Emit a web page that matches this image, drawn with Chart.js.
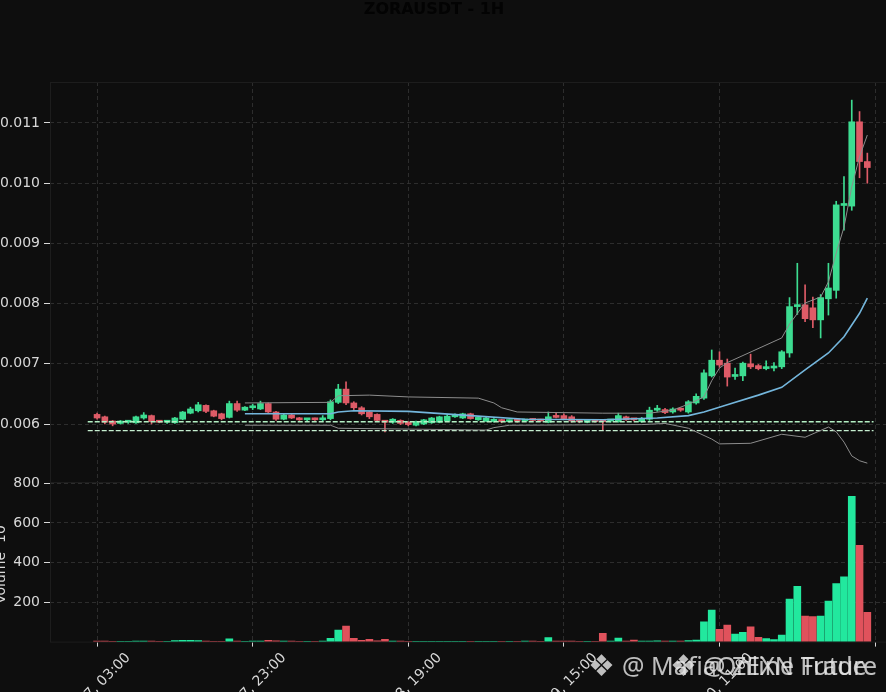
<!DOCTYPE html>
<html>
<head>
<meta charset="utf-8">
<script src="https://cdn.jsdelivr.net/npm/chart.js@4.4.1/dist/chart.umd.min.js"></script>
<style>
  html, body { margin: 0; padding: 0; background: #0e0e0e; overflow: hidden; }
  #wrap { position: relative; width: 886px; height: 692px; }
  #wrap canvas { position: absolute; left: 0; top: 0; }
</style>
</head>
<body>
<div id="wrap">
  <canvas id="price" width="886" height="692"></canvas>
  <canvas id="volume" width="886" height="692"></canvas>
</div>
<script>
/* === DATA (ZORAUSDT 1H) === */
const xTickIdx = [0, 20, 40, 60, 80, 100];
const xTickLabels = ['Jul 07, 03:00', 'Jul 07, 23:00', 'Jul 08, 19:00', 'Jul 09, 15:00', 'Jul 10, 11:00', ''];
const priceTicks = [0.006, 0.007, 0.008, 0.009, 0.010, 0.011];
const volumeTicks = [200, 400, 600, 800];

const opens = [
  0.00616, 0.00612, 0.00605, 0.00601, 0.00603, 0.00602, 0.00610, 0.00614, 0.00604, 0.00603,
  0.00602, 0.00608, 0.00618, 0.00622, 0.00631, 0.00622, 0.00617, 0.00611, 0.00634, 0.00623,
  0.00627, 0.00625, 0.00634, 0.00620, 0.00608, 0.00615, 0.00610, 0.00607, 0.00608, 0.00607,
  0.00609, 0.00636, 0.00658, 0.00635, 0.00627, 0.00620, 0.00616, 0.00604, 0.00603, 0.00606,
  0.00603, 0.00598, 0.00600, 0.00602, 0.00603, 0.00605, 0.00612, 0.00610, 0.00617, 0.00607,
  0.00605, 0.00604, 0.00607, 0.00604, 0.00606, 0.00605, 0.00607, 0.00606, 0.00603, 0.00613,
  0.00614, 0.00612, 0.00605, 0.00603, 0.00606, 0.00606, 0.00605, 0.00604, 0.00612, 0.00608,
  0.00604, 0.00608, 0.00623, 0.00624, 0.00620, 0.00625, 0.00620, 0.00635, 0.00643, 0.00680,
  0.00706, 0.00701, 0.00679, 0.00680, 0.00700, 0.00697, 0.00692, 0.00693, 0.00695, 0.00718,
  0.00795, 0.00798, 0.00793, 0.00773, 0.00808, 0.00822, 0.00963, 0.00962, 0.01102, 0.01036
];
const highs = [
  0.00618, 0.00613, 0.00606, 0.00606, 0.00605, 0.00613, 0.00619, 0.00615, 0.00606, 0.00605,
  0.00611, 0.00621, 0.00628, 0.00636, 0.00632, 0.00623, 0.00618, 0.00638, 0.00638, 0.00629,
  0.00633, 0.00638, 0.00635, 0.00621, 0.00616, 0.00616, 0.00611, 0.00609, 0.00610, 0.00614,
  0.00640, 0.00666, 0.00670, 0.00637, 0.00629, 0.00621, 0.00617, 0.00606, 0.00609, 0.00607,
  0.00604, 0.00605, 0.00608, 0.00611, 0.00613, 0.00616, 0.00617, 0.00618, 0.00618, 0.00612,
  0.00611, 0.00609, 0.00608, 0.00607, 0.00608, 0.00608, 0.00609, 0.00608, 0.00620, 0.00619,
  0.00617, 0.00614, 0.00607, 0.00607, 0.00607, 0.00607, 0.00607, 0.00618, 0.00613, 0.00609,
  0.00611, 0.00628, 0.00631, 0.00626, 0.00627, 0.00627, 0.00639, 0.00650, 0.00690, 0.00723,
  0.00720, 0.00708, 0.00693, 0.00703, 0.00716, 0.00699, 0.00705, 0.00702, 0.00722, 0.00810,
  0.00867, 0.00831, 0.00811, 0.00815, 0.00867, 0.00970, 0.01011, 0.01138, 0.01119, 0.01050
];
const lows = [
  0.00608, 0.00600, 0.00597, 0.00600, 0.00601, 0.00601, 0.00608, 0.00600, 0.00602, 0.00601,
  0.00601, 0.00607, 0.00617, 0.00620, 0.00619, 0.00612, 0.00607, 0.00610, 0.00621, 0.00622,
  0.00624, 0.00624, 0.00619, 0.00606, 0.00607, 0.00609, 0.00606, 0.00605, 0.00606, 0.00605,
  0.00607, 0.00634, 0.00632, 0.00624, 0.00615, 0.00609, 0.00604, 0.00587, 0.00601, 0.00599,
  0.00597, 0.00597, 0.00599, 0.00601, 0.00602, 0.00604, 0.00611, 0.00609, 0.00608, 0.00606,
  0.00604, 0.00603, 0.00602, 0.00603, 0.00603, 0.00604, 0.00605, 0.00604, 0.00602, 0.00610,
  0.00608, 0.00603, 0.00602, 0.00602, 0.00603, 0.00590, 0.00603, 0.00603, 0.00606, 0.00605,
  0.00603, 0.00606, 0.00621, 0.00617, 0.00618, 0.00621, 0.00618, 0.00633, 0.00641, 0.00678,
  0.00694, 0.00663, 0.00674, 0.00672, 0.00692, 0.00690, 0.00690, 0.00688, 0.00692, 0.00711,
  0.00782, 0.00770, 0.00760, 0.00743, 0.00781, 0.00809, 0.00922, 0.00955, 0.01009, 0.01000
];
const closes = [
  0.00610, 0.00603, 0.00600, 0.00605, 0.00604, 0.00612, 0.00615, 0.00604, 0.00603, 0.00603,
  0.00610, 0.00620, 0.00625, 0.00632, 0.00621, 0.00613, 0.00609, 0.00634, 0.00623, 0.00628,
  0.00627, 0.00634, 0.00620, 0.00608, 0.00615, 0.00610, 0.00607, 0.00608, 0.00607, 0.00608,
  0.00637, 0.00658, 0.00635, 0.00627, 0.00617, 0.00612, 0.00606, 0.00603, 0.00608, 0.00601,
  0.00599, 0.00604, 0.00607, 0.00610, 0.00612, 0.00613, 0.00613, 0.00617, 0.00609, 0.00611,
  0.00610, 0.00608, 0.00604, 0.00606, 0.00605, 0.00607, 0.00606, 0.00605, 0.00612, 0.00611,
  0.00609, 0.00605, 0.00604, 0.00606, 0.00604, 0.00604, 0.00606, 0.00614, 0.00607, 0.00607,
  0.00609, 0.00623, 0.00625, 0.00619, 0.00625, 0.00623, 0.00637, 0.00646, 0.00685, 0.00706,
  0.00698, 0.00678, 0.00682, 0.00701, 0.00695, 0.00692, 0.00694, 0.00695, 0.00720, 0.00795,
  0.00798, 0.00775, 0.00773, 0.00810, 0.00826, 0.00964, 0.00965, 0.01102, 0.01036, 0.01026
];
const volumes = [
  2, 2, 1, 1, 1, 2, 2, 2, 1, 1,
  5, 6, 6, 5, 2, 1, 1, 14, 3, 1,
  2, 3, 7, 4, 2, 2, 1, 1, 1, 2,
  17, 58, 79, 17, 6, 12, 4, 12, 3, 2,
  1, 1, 1, 1, 1, 1, 1, 1, 1, 1,
  1, 1, 1, 1, 1, 2, 2, 1, 20, 3,
  2, 2, 1, 1, 1, 42, 2, 18, 3, 8,
  2, 3, 4, 2, 2, 3, 5, 8, 100, 159,
  62, 84, 38, 47, 75, 22, 15, 10, 33, 215,
  280, 129, 126, 129, 205, 294, 327, 734, 487, 148
];

// Bollinger bands (candle index, price)
const bbUpperIdx = [19, 30, 31, 35, 40, 49, 51, 52, 54, 65, 71, 74, 76, 78, 79, 80, 81, 88, 89, 91, 93, 94, 95, 96, 97, 98, 99];
const bbUpperVal = [0.00635, 0.00636, 0.00647, 0.00648, 0.00645, 0.00643, 0.00635, 0.00627, 0.00620, 0.00618, 0.00618, 0.00623, 0.00633, 0.00645, 0.00672, 0.00693, 0.00702, 0.00743, 0.00766, 0.00801, 0.00811, 0.00836, 0.00884, 0.00927, 0.00994, 0.01044, 0.01080];
const bbMidIdx = [19, 30, 31, 33, 40, 48, 55, 65, 72, 76, 78, 81, 85, 88, 91, 94, 96, 98, 99];
const bbMidVal = [0.00617, 0.00617, 0.00620, 0.00622, 0.00621, 0.00614, 0.00608, 0.00607, 0.00610, 0.00614, 0.00620, 0.00632, 0.00648, 0.00661, 0.00690, 0.00718, 0.00745, 0.00784, 0.00809];
const bbLowerIdx = [19, 30, 31, 50, 51, 53, 70, 73, 76, 79, 80, 84, 88, 91, 94, 95, 96, 97, 98, 99];
const bbLowerVal = [0.00598, 0.00598, 0.00593, 0.00590, 0.00594, 0.00598, 0.00599, 0.00601, 0.00593, 0.00575, 0.00567, 0.00568, 0.00583, 0.00578, 0.00595, 0.00587, 0.00570, 0.00547, 0.00539, 0.00535];

const hLevels = [0.006038, 0.00589];
const hSpan = [-1.2, 99.8];

/* === STYLE === */
const upColor = '#3ddc91';
const downColor = '#de5b67';
const volUp = '#22e89e';
const volDown = '#e0525c';
const gridColor = '#363636';
const textColor = '#d8d8d8';
const FONT = '"DejaVu Sans", sans-serif';
const xMin = -6.05, xMax = 101.4;

const idx = opens.map((_, i) => i);
const candleColors = idx.map(i => closes[i] >= opens[i] ? upColor : downColor);
const volColors = idx.map(i => closes[i] >= opens[i] ? volUp : volDown);

function pts(xs, ys) {
    return xs.map((x, i) => ({ x: x, y: ys[i] }));
}

function xScaleBase(extra) {
    return Object.assign({
        type: 'linear', min: xMin, max: xMax, offset: false,
        afterBuildTicks: s => { s.ticks = xTickIdx.map(v => ({ value: v })); },
        ticks: { display: false },
        grid: { color: gridColor, lineWidth: 0.8, offset: false, tickColor: textColor, tickLength: 5, tickWidth: 1 },
        border: { display: false, dash: [4, 3] }
    }, extra);
}

const framePlugin = {
    id: 'frame',
    beforeDatasetsDraw(chart) {
        const a = chart.chartArea, ctx = chart.ctx;
        ctx.save();
        ctx.strokeStyle = '#1d1d1d';
        ctx.lineWidth = 1;
        ctx.strokeRect(a.left + 0.5, a.top + 0.5, a.right - a.left, a.bottom - a.top);
        ctx.restore();
    }
};

const titlePlugin = {
    id: 'title',
    afterDraw(chart) {
        const ctx = chart.ctx;
        ctx.save();
        ctx.font = 'bold 16px ' + FONT;
        ctx.fillStyle = '#030303';
        ctx.textAlign = 'center';
        ctx.textBaseline = 'middle';
        ctx.fillText('ZORAUSDT - 1H', 434, 10);
        ctx.restore();
    }
};

const lowerTextPlugin = {
    id: 'lowerText',
    afterDraw(chart) {
        const ctx = chart.ctx, xs = chart.scales.x, a = chart.chartArea;
        ctx.save();
        ctx.font = '14px ' + FONT;
        ctx.fillStyle = textColor;
        ctx.textAlign = 'center';
        ctx.textBaseline = 'middle';
        xTickIdx.forEach((v, k) => {
            const txt = xTickLabels[k];
            if (!txt) return;
            const w = ctx.measureText(txt).width;
            const ext = (w + 14) * Math.SQRT1_2;
            ctx.save();
            ctx.translate(xs.getPixelForValue(v), a.bottom + 9 + ext / 2);
            ctx.rotate(-Math.PI / 4);
            ctx.fillText(txt, 0, 0);
            ctx.restore();
        });
        // volume axis label
        ctx.save();
        ctx.translate(5, (a.top + a.bottom) / 2);
        ctx.rotate(-Math.PI / 2);
        ctx.textBaseline = 'alphabetic';
        ctx.fillText('Volume  10⁶', 0, 0);
        ctx.restore();
        // watermark
        ctx.globalAlpha = 0.82;
        ctx.fillStyle = '#e6e6e6';
        ctx.textAlign = 'left';
        ctx.textBaseline = 'alphabetic';
        ctx.font = '30px ' + FONT;
        ctx.fillText('❖', 588, 676);
        ctx.fillText('❖', 670, 676);
        ctx.font = '25px "Noto Sans", sans-serif';
        ctx.fillText('@ MafiaOnline Trade', 622, 675);
        ctx.fillText('@ ZEXN Future', 703, 675);
        ctx.restore();
    }
};

new Chart(document.getElementById('price'), {
    type: 'bar',
    data: {
        datasets: [
            { type: 'line', data: pts(bbUpperIdx, bbUpperVal), borderColor: '#8d8d8d', borderWidth: 1, pointRadius: 0, order: 0 },
            { type: 'line', data: pts(bbMidIdx, bbMidVal), borderColor: '#74b6dc', borderWidth: 1.6, pointRadius: 0, order: 0 },
            { type: 'line', data: pts(bbLowerIdx, bbLowerVal), borderColor: '#8d8d8d', borderWidth: 1, pointRadius: 0, order: 0 },
            { type: 'line', data: pts(hSpan, [hLevels[0], hLevels[0]]), borderColor: '#b4f0c4', borderWidth: 1.3, borderDash: [5, 2], pointRadius: 0, order: 0 },
            { type: 'line', data: pts(hSpan, [hLevels[1], hLevels[1]]), borderColor: '#c6efd0', borderWidth: 1.3, borderDash: [5, 2], pointRadius: 0, order: 0 },
            { data: idx.map(i => ({ x: i, y: [lows[i], highs[i]] })), backgroundColor: candleColors, barThickness: 1, grouped: false, order: 2 },
            { data: idx.map(i => ({ x: i, y: [opens[i], closes[i]] })), backgroundColor: candleColors, barThickness: 6, minBarLength: 2, grouped: false, order: 1 }
        ]
    },
    options: {
        responsive: false, animation: false, devicePixelRatio: 1,
        layout: { padding: { top: 82, bottom: 210, left: 0, right: 0 } },
        plugins: { legend: { display: false }, tooltip: { enabled: false } },
        scales: {
            x: xScaleBase({ grid: { color: gridColor, lineWidth: 0.8, offset: false, drawTicks: false }, afterFit: s => { s.height = 0; } }),
            y: {
                min: 0.005037, max: 0.011681,
                afterBuildTicks: s => { s.ticks = priceTicks.map(v => ({ value: v })); },
                afterFit: s => { s.width = 50; },
                ticks: { color: textColor, font: { family: FONT, size: 14 }, padding: 4, callback: v => v.toFixed(3) },
                grid: { color: gridColor, lineWidth: 0.8, tickColor: textColor, tickLength: 6, tickWidth: 1 },
                border: { display: false, dash: [4, 3] }
            }
        }
    },
    plugins: [framePlugin, titlePlugin]
});

new Chart(document.getElementById('volume'), {
    type: 'bar',
    data: {
        datasets: [
            { data: idx.map(i => ({ x: i, y: volumes[i] })), backgroundColor: volColors, barThickness: 7, grouped: false }
        ]
    },
    options: {
        responsive: false, animation: false, devicePixelRatio: 1,
        layout: { padding: { top: 482, bottom: 0, left: 0, right: 0 } },
        plugins: { legend: { display: false }, tooltip: { enabled: false } },
        scales: {
            x: xScaleBase({ afterFit: s => { s.height = 50.4; } }),
            y: {
                min: 0, max: 807,
                afterBuildTicks: s => { s.ticks = volumeTicks.map(v => ({ value: v })); },
                afterFit: s => { s.width = 50; },
                ticks: { color: textColor, font: { family: FONT, size: 14 }, padding: 4, callback: v => String(v) },
                grid: { color: gridColor, lineWidth: 0.8, tickColor: textColor, tickLength: 6, tickWidth: 1 },
                border: { display: false, dash: [4, 3] }
            }
        }
    },
    plugins: [framePlugin, lowerTextPlugin]
});
</script>
</body>
</html>
